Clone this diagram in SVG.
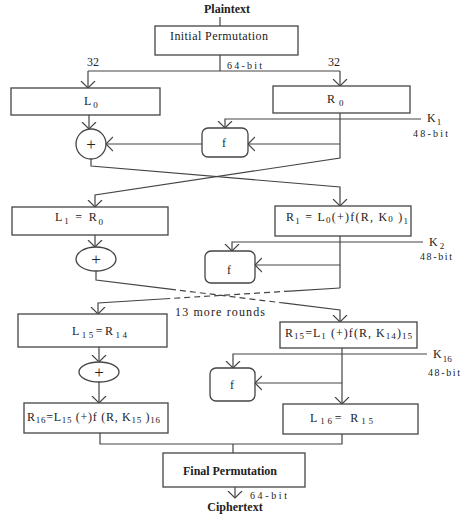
<svg xmlns="http://www.w3.org/2000/svg" width="474" height="520" viewBox="0 0 474 520">
<defs>
<style>
.bx{fill:#fff;stroke:#444;stroke-width:1.3}
.ln{fill:none;stroke:#444;stroke-width:1.2}
.ar{marker-end:url(#arr)}
.dash{stroke-dasharray:6 4}
text{font-family:"Liberation Serif","Times New Roman",serif;fill:#222}
.t{font-size:12px}
.sm{font-size:10px}
.sub{font-size:9px}
.b{font-weight:bold}
.c{text-anchor:middle}
.op{font-size:17px}
</style>
<marker id="arr" markerUnits="userSpaceOnUse" markerWidth="16" markerHeight="16" refX="7" refY="8" orient="auto" viewBox="0 0 16 16"><path d="M0,1 L7,8 L0,15" fill="none" stroke="#444" stroke-width="1.2"/></marker>
</defs>
<rect width="474" height="520" fill="#fff"/>
<g id="connectors">
<path class="ln" d="M220,17 V26"/>
<path class="ln" d="M220,55 V71"/>
<path class="ln" d="M88,71 H340"/>
<path class="ln ar" d="M88,71 V88"/>
<path class="ln ar" d="M340,71 V86"/>
<path class="ln ar" d="M89,115 V129"/>
<path class="ln ar" d="M340,113 V158 L95,195 V207"/>
<path class="ln ar" d="M421,119 H225 V128"/>
<path class="ln ar" d="M340,144 H248"/>
<path class="ln ar" d="M202,144 H106"/>
<path class="ln ar" d="M91,159 V166 L340,187 V206"/>
<path class="ln ar" d="M95,235 V247"/>
<path class="ln" d="M340,236 V288"/>
<path class="ln ar" d="M423,242 H232 V251"/>
<path class="ln ar" d="M340,265 H255"/>
<path class="ln" d="M96,271 V280 L170,289.1"/>
<path class="ln dash" d="M170,289.1 L285,303.2"/>
<path class="ln ar" d="M285,303.2 L340,310 V322"/>
<path class="ln" d="M340,288 L290,291.1"/>
<path class="ln dash" d="M290,291.1 L170,298.5"/>
<path class="ln ar" d="M170,298.5 L98,303 V314"/>
<path class="ln ar" d="M99,347 V362"/>
<path class="ln ar" d="M99,382 V403"/>
<path class="ln ar" d="M342,348 V404"/>
<path class="ln ar" d="M427,354 H233 V368"/>
<path class="ln ar" d="M342,383 H255"/>
<path class="ln" d="M100,433 V444 H342 V434"/>
<path class="ln" d="M233,444 V453"/>
<path class="ln ar" d="M235,487 V498"/>
</g>
<g id="plaintext"><text x="227" y="13" class="t b c" font-size="11.5">Plaintext</text></g>
<g id="initial-permutation">
<rect class="bx" x="155" y="26" width="143" height="29"/>
<text x="170" y="40" class="t" font-size="12.5" textLength="98" lengthAdjust="spacing">Initial Permutation</text>
</g>
<g id="split-labels">
<text x="227" y="69" class="sm" textLength="35" lengthAdjust="spacing">64-bit</text>
<text x="87" y="66" class="t">32</text>
<text x="328" y="66" class="t">32</text>
</g>
<g id="L0"><rect class="bx" x="11" y="88" width="149" height="27"/>
<text x="84" y="105" class="t">L<tspan dx="2" dy="3" class="sub">0</tspan></text></g>
<g id="R0"><rect class="bx" x="273" y="86" width="137" height="27"/>
<text x="327" y="103" class="t">R<tspan dx="4" dy="3" class="sub">0</tspan></text></g>
<g id="K1"><text x="427" y="122" class="t">K<tspan dx="1" dy="3" class="sub">1</tspan></text>
<text x="413" y="137" class="sm" textLength="35" lengthAdjust="spacing">48-bit</text></g>
<g id="f1"><rect class="bx" x="202" y="128" width="46" height="29" rx="6"/>
<text x="224" y="147" class="t c">f</text></g>
<g id="xor1"><ellipse class="bx" cx="91" cy="144" rx="15" ry="15"/>
<text x="91" y="150" class="op c">+</text></g>
<g id="L1"><rect class="bx" x="12" y="207" width="156" height="28"/>
<text x="55" y="221" class="t" textLength="48" lengthAdjust="spacing">L<tspan dy="3" class="sub">1</tspan><tspan dy="-3"> = R</tspan><tspan dy="4" class="sub">0</tspan></text></g>
<g id="R1"><rect class="bx" x="275" y="206" width="136" height="30"/>
<text x="286" y="221" class="t" textLength="122" lengthAdjust="spacing">R<tspan dy="3" class="sub">1</tspan><tspan dy="-3"> = L</tspan><tspan dy="2" class="sub">0</tspan><tspan dy="-2">(+)f(R, K</tspan><tspan dy="1" class="sub">0</tspan><tspan dy="-1"> )</tspan><tspan dy="3" class="sub">1</tspan></text></g>
<g id="K2"><text x="429" y="246" class="t">K<tspan dx="2" dy="3" class="sub">2</tspan></text>
<text x="420" y="260" class="sm" textLength="32" lengthAdjust="spacing">48-bit</text></g>
<g id="f2"><rect class="bx" x="205" y="251" width="50" height="32" rx="6"/>
<text x="229" y="274" class="t c">f</text></g>
<g id="xor2"><ellipse class="bx" cx="96" cy="259" rx="20" ry="12"/>
<text x="96" y="265" class="op c">+</text></g>
<g id="rounds-label"><text x="175" y="316" class="t" textLength="90" lengthAdjust="spacing">13 more rounds</text></g>
<g id="L15"><rect class="bx" x="18" y="314" width="149" height="33"/>
<text x="72" y="335" class="t" textLength="55" lengthAdjust="spacing">L<tspan dy="3" class="sub">15</tspan><tspan dy="-3">=R</tspan><tspan dy="3" class="sub">14</tspan></text></g>
<g id="R15"><rect class="bx" x="280" y="322" width="137" height="26"/>
<text x="285" y="337" class="t" textLength="127" lengthAdjust="spacing">R<tspan dy="2" class="sub">15</tspan><tspan dy="-2">=L</tspan><tspan dy="2" class="sub">1</tspan><tspan dy="-2"> (+)f(R, K</tspan><tspan dy="2" class="sub">14</tspan><tspan dy="-2">)</tspan><tspan dy="2" class="sub">15</tspan></text></g>
<g id="K16"><text x="433" y="358" class="t">K<tspan dx="1" dy="4" class="sub">16</tspan></text>
<text x="428" y="376" class="sm" textLength="32" lengthAdjust="spacing">48-bit</text></g>
<g id="f3"><rect class="bx" x="210" y="368" width="45" height="33" rx="6"/>
<text x="232" y="389" class="t c">f</text></g>
<g id="xor3"><ellipse class="bx" cx="99" cy="372" rx="20" ry="10"/>
<text x="99" y="378" class="op c">+</text></g>
<g id="R16"><rect class="bx" x="24" y="403" width="144" height="30"/>
<text x="27" y="421" class="t" textLength="133" lengthAdjust="spacing">R<tspan dy="2" class="sub">16</tspan><tspan dy="-2">=L</tspan><tspan dy="2" class="sub">15</tspan><tspan dy="-2"> (+)f (R, K</tspan><tspan dy="2" class="sub">15</tspan><tspan dy="-2"> )</tspan><tspan dy="2" class="sub">16</tspan></text></g>
<g id="L16"><rect class="bx" x="283" y="404" width="135" height="30"/>
<text x="310" y="422" class="t" textLength="63" lengthAdjust="spacing">L<tspan dy="2" class="sub">16</tspan><tspan dy="-2">= R</tspan><tspan dy="2" class="sub">15</tspan></text></g>
<g id="final-permutation"><rect class="bx" x="163" y="453" width="142" height="34"/>
<text x="230" y="475" class="t b c" textLength="94" lengthAdjust="spacing">Final Permutation</text></g>
<g id="ciphertext">
<text x="250" y="499" class="sm" textLength="37" lengthAdjust="spacing">64-bit</text>
<text x="235" y="511" class="t b c" font-size="11.5">Ciphertext</text></g>
</svg>
